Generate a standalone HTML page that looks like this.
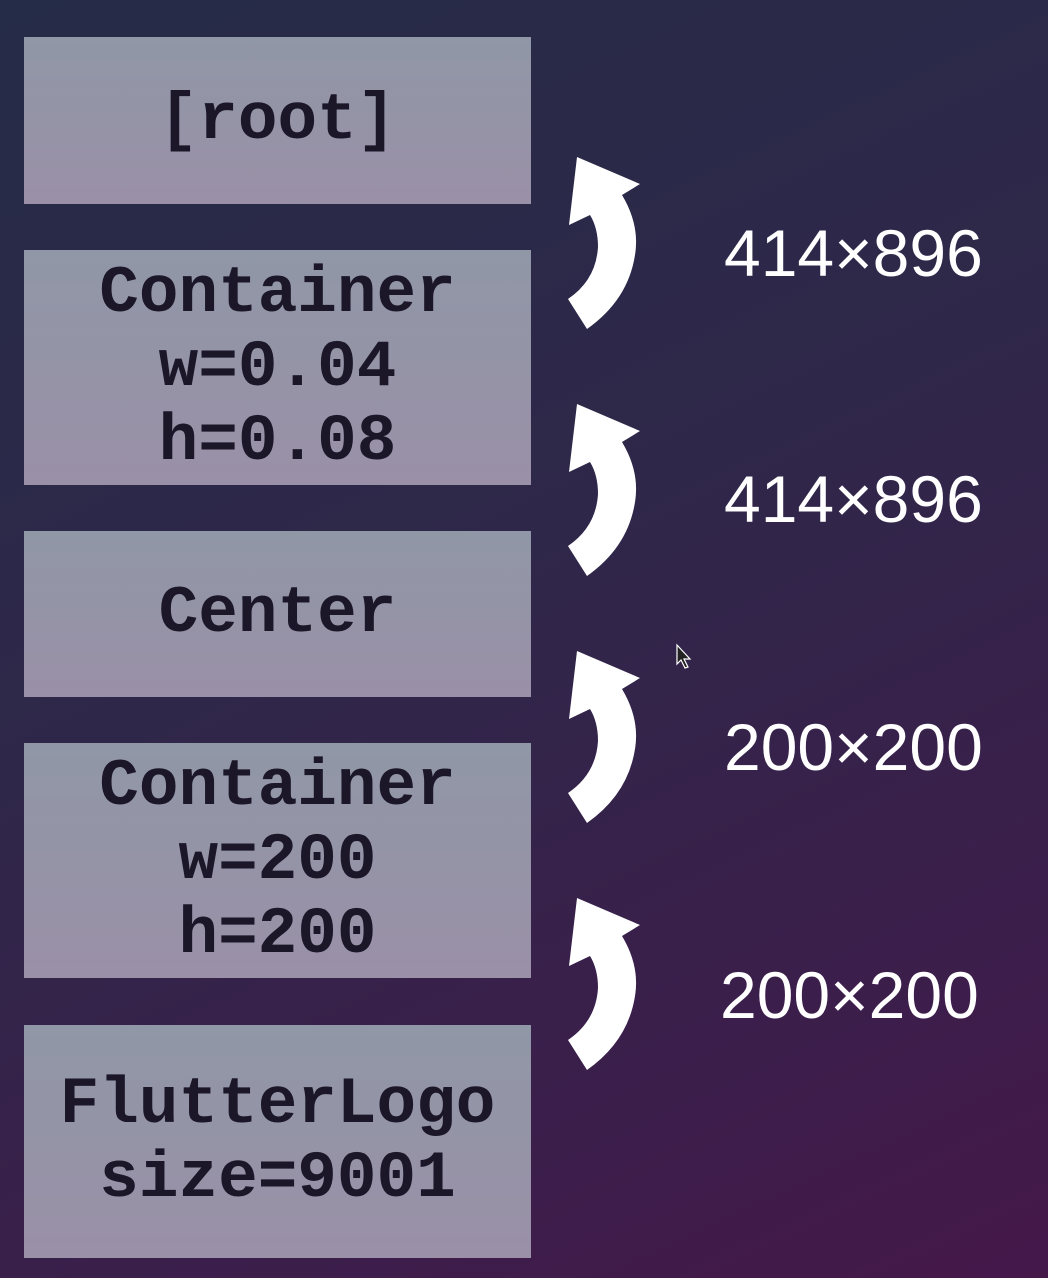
<!DOCTYPE html>
<html><head><meta charset="utf-8"><style>
html,body{margin:0;padding:0}
body{width:1048px;height:1278px;overflow:hidden;position:relative;background:linear-gradient(155deg,#252c48 0%,#2f2749 45%,#3a1f4b 75%,#45184a 100%);}
.box{position:absolute;left:24px;width:507px;background:linear-gradient(180deg,#9097a7,#9a90a7);display:flex;flex-direction:column;align-items:center;justify-content:center;font-family:"Liberation Mono",monospace;font-weight:bold;font-size:66px;line-height:74px;color:#1b1628;}
.lbl{position:absolute;left:724px;font-family:"Liberation Sans",sans-serif;font-size:66px;color:#fff;line-height:1;}
svg{position:absolute;left:0;top:0}
</style></head><body>
<div class="box" style="top:37px;height:167px">[root]</div>
<div class="box" style="top:250px;height:235px"><div>Container</div><div>w=0.04</div><div>h=0.08</div></div>
<div class="box" style="top:531px;height:166px">Center</div>
<div class="box" style="top:743px;height:235px"><div>Container</div><div>w=200</div><div>h=200</div></div>
<div class="box" style="top:1025px;height:233px"><div>FlutterLogo</div><div>size=9001</div></div>
<svg width="1048" height="1278">
<defs><path id="a" d="M577,157 L640,184 L622,195 Q640,225 635,255 Q628,300 587,329 L568,299 Q596,280 598,247 Q598,228 590,215 L569,225 Z" fill="#fff"/></defs>
<use href="#a"/>
<use href="#a" y="247"/>
<use href="#a" y="494"/>
<use href="#a" y="741"/>
<path d="M677,645 L677,664 L681,660 L685,668 L688,667 L684,659 L690,659 Z" fill="#222" stroke="#fff" stroke-width="1.2"/>
</svg>
<div class="lbl" style="top:220px">414×896</div>
<div class="lbl" style="top:466px">414×896</div>
<div class="lbl" style="top:714px">200×200</div>
<div class="lbl" style="top:962px;left:720px">200×200</div>
</body></html>
